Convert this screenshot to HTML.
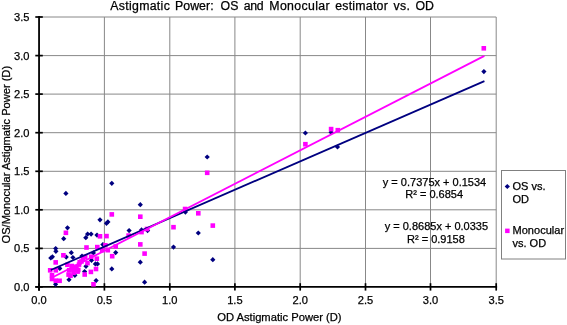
<!DOCTYPE html>
<html><head><meta charset="utf-8"><title>Astigmatic Power</title>
<style>
html,body{margin:0;padding:0;background:#fff;}
svg{display:block;}
text{font-family:"Liberation Sans",Arial,sans-serif;fill:#000;stroke:#000;stroke-width:0.25px;}
</style></head><body>
<svg width="567" height="325" viewBox="0 0 567 325">
<rect width="567" height="325" fill="#fff"/>

<g stroke="#888" stroke-width="1">
<line x1="104.4" y1="17.0" x2="104.4" y2="286.95"/>
<line x1="169.8" y1="17.0" x2="169.8" y2="286.95"/>
<line x1="234.9" y1="17.0" x2="234.9" y2="286.95"/>
<line x1="300.2" y1="17.0" x2="300.2" y2="286.95"/>
<line x1="365.5" y1="17.0" x2="365.5" y2="286.95"/>
<line x1="430.5" y1="17.0" x2="430.5" y2="286.95"/>
<line x1="496.2" y1="17.0" x2="496.2" y2="286.95"/>
<line x1="39.05" y1="248.4" x2="496.2" y2="248.4"/>
<line x1="39.05" y1="209.8" x2="496.2" y2="209.8"/>
<line x1="39.05" y1="171.3" x2="496.2" y2="171.3"/>
<line x1="39.05" y1="132.7" x2="496.2" y2="132.7"/>
<line x1="39.05" y1="94.1" x2="496.2" y2="94.1"/>
<line x1="39.05" y1="55.6" x2="496.2" y2="55.6"/>
<line x1="39.05" y1="17.0" x2="496.2" y2="17.0"/>
</g>
<g stroke="#000" stroke-width="1.8">
<line x1="39.05" y1="16.1" x2="39.05" y2="290.65"/>
<line x1="35.349999999999994" y1="286.95" x2="497.09999999999997" y2="286.95"/>
</g><g stroke="#000" stroke-width="1.7">
<line x1="39.0" y1="283.2" x2="39.0" y2="290.6"/>
<line x1="35.3" y1="286.9" x2="42.8" y2="286.9"/>
<line x1="104.4" y1="283.2" x2="104.4" y2="290.6"/>
<line x1="35.3" y1="248.4" x2="42.8" y2="248.4"/>
<line x1="169.8" y1="283.2" x2="169.8" y2="290.6"/>
<line x1="35.3" y1="209.8" x2="42.8" y2="209.8"/>
<line x1="234.9" y1="283.2" x2="234.9" y2="290.6"/>
<line x1="35.3" y1="171.3" x2="42.8" y2="171.3"/>
<line x1="300.2" y1="283.2" x2="300.2" y2="290.6"/>
<line x1="35.3" y1="132.7" x2="42.8" y2="132.7"/>
<line x1="365.5" y1="283.2" x2="365.5" y2="290.6"/>
<line x1="35.3" y1="94.1" x2="42.8" y2="94.1"/>
<line x1="430.5" y1="283.2" x2="430.5" y2="290.6"/>
<line x1="35.3" y1="55.6" x2="42.8" y2="55.6"/>
<line x1="496.2" y1="283.2" x2="496.2" y2="290.6"/>
<line x1="35.3" y1="17.0" x2="42.8" y2="17.0"/>
</g>
<g fill="#000080">
<path d="M55.7 245.9L58.3 248.5L55.7 251.1L53.1 248.5Z"/>
<path d="M55.9 248.7L58.5 251.3L55.9 253.9L53.3 251.3Z"/>
<path d="M50.8 255.4L53.4 258.0L50.8 260.6L48.2 258.0Z"/>
<path d="M52.4 254.2L55.0 256.8L52.4 259.4L49.8 256.8Z"/>
<path d="M71.3 250.1L73.9 252.7L71.3 255.3L68.7 252.7Z"/>
<path d="M66.2 254.5L68.8 257.1L66.2 259.7L63.6 257.1Z"/>
<path d="M72.9 254.9L75.5 257.5L72.9 260.1L70.3 257.5Z"/>
<path d="M59.8 265.8L62.4 268.4L59.8 271.0L57.2 268.4Z"/>
<path d="M69.0 277.1L71.6 279.7L69.0 282.3L66.4 279.7Z"/>
<path d="M55.6 281.7L58.2 284.3L55.6 286.9L53.0 284.3Z"/>
<path d="M74.9 272.7L77.5 275.3L74.9 277.9L72.3 275.3Z"/>
<path d="M102.9 242.0L105.5 244.6L102.9 247.2L100.3 244.6Z"/>
<path d="M115.7 250.0L118.3 252.6L115.7 255.2L113.1 252.6Z"/>
<path d="M111.8 266.3L114.4 268.9L111.8 271.5L109.2 268.9Z"/>
<path d="M96.1 278.0L98.7 280.6L96.1 283.2L93.5 280.6Z"/>
<path d="M95.4 261.3L98.0 263.9L95.4 266.5L92.8 263.9Z"/>
<path d="M97.5 261.3L100.1 263.9L97.5 266.5L94.9 263.9Z"/>
<path d="M86.0 263.7L88.6 266.3L86.0 268.9L83.4 266.3Z"/>
<path d="M84.6 269.0L87.2 271.6L84.6 274.2L82.0 271.6Z"/>
<path d="M93.4 250.3L96.0 252.9L93.4 255.5L90.8 252.9Z"/>
<path d="M82.0 253.4L84.6 256.0L82.0 258.6L79.4 256.0Z"/>
<path d="M91.5 257.7L94.1 260.3L91.5 262.9L88.9 260.3Z"/>
<path d="M111.8 180.7L114.4 183.3L111.8 185.9L109.2 183.3Z"/>
<path d="M65.9 190.8L68.5 193.4L65.9 196.0L63.3 193.4Z"/>
<path d="M100.0 217.2L102.6 219.8L100.0 222.4L97.4 219.8Z"/>
<path d="M107.9 219.3L110.5 221.9L107.9 224.5L105.3 221.9Z"/>
<path d="M106.5 220.7L109.1 223.3L106.5 225.9L103.9 223.3Z"/>
<path d="M67.5 225.2L70.1 227.8L67.5 230.4L64.9 227.8Z"/>
<path d="M63.7 236.1L66.3 238.7L63.7 241.3L61.1 238.7Z"/>
<path d="M87.6 231.5L90.2 234.1L87.6 236.7L85.0 234.1Z"/>
<path d="M91.1 231.5L93.7 234.1L91.1 236.7L88.5 234.1Z"/>
<path d="M85.8 235.1L88.4 237.7L85.8 240.3L83.2 237.7Z"/>
<path d="M97.0 232.5L99.6 235.1L97.0 237.7L94.4 235.1Z"/>
<path d="M129.1 228.0L131.7 230.6L129.1 233.2L126.5 230.6Z"/>
<path d="M140.3 202.1L142.9 204.7L140.3 207.3L137.7 204.7Z"/>
<path d="M141.5 227.3L144.1 229.9L141.5 232.5L138.9 229.9Z"/>
<path d="M147.6 228.0L150.2 230.6L147.6 233.2L145.0 230.6Z"/>
<path d="M140.3 259.6L142.9 262.2L140.3 264.8L137.7 262.2Z"/>
<path d="M144.6 279.6L147.2 282.2L144.6 284.8L142.0 282.2Z"/>
<path d="M173.5 244.5L176.1 247.1L173.5 249.7L170.9 247.1Z"/>
<path d="M185.4 209.5L188.0 212.1L185.4 214.7L182.8 212.1Z"/>
<path d="M198.3 230.4L200.9 233.0L198.3 235.6L195.7 233.0Z"/>
<path d="M212.8 257.1L215.4 259.7L212.8 262.3L210.2 259.7Z"/>
<path d="M207.2 154.4L209.8 157.0L207.2 159.6L204.6 157.0Z"/>
<path d="M305.4 130.4L308.0 133.0L305.4 135.6L302.8 133.0Z"/>
<path d="M331.1 129.7L333.7 132.3L331.1 134.9L328.5 132.3Z"/>
<path d="M337.5 144.4L340.1 147.0L337.5 149.6L334.9 147.0Z"/>
<path d="M483.9 69.0L486.5 71.6L483.9 74.2L481.3 71.6Z"/>
</g>
<g fill="#ff00ff">
<rect x="61.1" y="253.0" width="4.6" height="4.6"/>
<rect x="53.4" y="260.1" width="4.6" height="4.6"/>
<rect x="47.9" y="268.0" width="4.6" height="4.6"/>
<rect x="53.5" y="268.0" width="4.6" height="4.6"/>
<rect x="49.7" y="273.0" width="4.6" height="4.6"/>
<rect x="49.7" y="276.7" width="4.6" height="4.6"/>
<rect x="53.5" y="278.4" width="4.6" height="4.6"/>
<rect x="57.3" y="278.5" width="4.6" height="4.6"/>
<rect x="65.1" y="262.5" width="4.6" height="4.6"/>
<rect x="69.4" y="263.7" width="4.6" height="4.6"/>
<rect x="66.9" y="268.0" width="4.6" height="4.6"/>
<rect x="66.3" y="272.3" width="4.6" height="4.6"/>
<rect x="68.2" y="273.5" width="4.6" height="4.6"/>
<rect x="74.1" y="264.4" width="4.6" height="4.6"/>
<rect x="77.4" y="260.0" width="4.6" height="4.6"/>
<rect x="73.7" y="267.4" width="4.6" height="4.6"/>
<rect x="75.3" y="269.3" width="4.6" height="4.6"/>
<rect x="71.2" y="270.5" width="4.6" height="4.6"/>
<rect x="70.6" y="267.0" width="4.6" height="4.6"/>
<rect x="84.2" y="245.2" width="4.6" height="4.6"/>
<rect x="95.0" y="244.8" width="4.6" height="4.6"/>
<rect x="105.5" y="247.9" width="4.6" height="4.6"/>
<rect x="103.1" y="243.0" width="4.6" height="4.6"/>
<rect x="113.4" y="244.2" width="4.6" height="4.6"/>
<rect x="99.9" y="247.9" width="4.6" height="4.6"/>
<rect x="109.9" y="253.9" width="4.6" height="4.6"/>
<rect x="94.5" y="256.4" width="4.6" height="4.6"/>
<rect x="88.9" y="254.4" width="4.6" height="4.6"/>
<rect x="93.7" y="266.7" width="4.6" height="4.6"/>
<rect x="88.6" y="269.6" width="4.6" height="4.6"/>
<rect x="82.4" y="272.2" width="4.6" height="4.6"/>
<rect x="91.2" y="282.0" width="4.6" height="4.6"/>
<rect x="80.6" y="256.9" width="4.6" height="4.6"/>
<rect x="85.2" y="260.8" width="4.6" height="4.6"/>
<rect x="76.7" y="262.3" width="4.6" height="4.6"/>
<rect x="76.0" y="267.7" width="4.6" height="4.6"/>
<rect x="79.1" y="259.2" width="4.6" height="4.6"/>
<rect x="82.9" y="254.7" width="4.6" height="4.6"/>
<rect x="109.5" y="212.1" width="4.6" height="4.6"/>
<rect x="63.6" y="230.5" width="4.6" height="4.6"/>
<rect x="97.7" y="234.0" width="4.6" height="4.6"/>
<rect x="104.2" y="233.8" width="4.6" height="4.6"/>
<rect x="126.3" y="233.3" width="4.6" height="4.6"/>
<rect x="138.0" y="214.4" width="4.6" height="4.6"/>
<rect x="139.2" y="229.8" width="4.6" height="4.6"/>
<rect x="144.7" y="226.7" width="4.6" height="4.6"/>
<rect x="138.0" y="242.1" width="4.6" height="4.6"/>
<rect x="142.3" y="251.3" width="4.6" height="4.6"/>
<rect x="171.2" y="224.9" width="4.6" height="4.6"/>
<rect x="182.8" y="206.7" width="4.6" height="4.6"/>
<rect x="196.0" y="211.0" width="4.6" height="4.6"/>
<rect x="210.5" y="223.3" width="4.6" height="4.6"/>
<rect x="204.9" y="170.5" width="4.6" height="4.6"/>
<rect x="303.1" y="141.9" width="4.6" height="4.6"/>
<rect x="328.8" y="126.8" width="4.6" height="4.6"/>
<rect x="335.5" y="127.9" width="4.6" height="4.6"/>
<rect x="481.5" y="46.0" width="4.6" height="4.6"/>
</g>
<line x1="50.8" y1="270.0" x2="484.4" y2="81.1" stroke="#000080" stroke-width="1.8"/>
<line x1="50.8" y1="278.3" x2="484.4" y2="55.9" stroke="#ff00ff" stroke-width="1.8"/>
<rect x="501.5" y="170.5" width="64" height="88.5" fill="#fff" stroke="#808080" stroke-width="1"/>
<path d="M507.3 183.9L509.90000000000003 186.5L507.3 189.1L504.7 186.5Z" fill="#000080"/>
<rect x="505.1" y="228.6" width="4.5" height="4.5" fill="#ff00ff"/>
<g font-size="11px">
<text x="512.5" y="189.7">OS vs.</text>
<text x="512.5" y="202.7">OD</text>
<text x="512.5" y="233.5" textLength="51.6" lengthAdjust="spacing">Monocular</text>
<text x="512.5" y="246.5">vs. OD</text>
</g>
<g font-size="11px" text-anchor="middle">
<text x="434.5" y="185.8">y = 0.7375x + 0.1534</text>
<text x="434.2" y="197.7">R² = 0.6854</text>
<text x="436.4" y="230.1">y = 0.8685x + 0.0335</text>
<text x="435.9" y="242.6">R² = 0.9158</text>
</g>
<g font-size="11.1px" text-anchor="end">
<text x="29.4" y="290.8">0.0</text>
<text x="29.4" y="252.3">0.5</text>
<text x="29.4" y="213.7">1.0</text>
<text x="29.4" y="175.2">1.5</text>
<text x="29.4" y="136.6">2.0</text>
<text x="29.4" y="98.0">2.5</text>
<text x="29.4" y="59.5">3.0</text>
<text x="29.4" y="20.9">3.5</text>
</g>
<g font-size="11.1px" text-anchor="middle">
<text x="39.0" y="304">0.0</text>
<text x="104.4" y="304">0.5</text>
<text x="169.8" y="304">1.0</text>
<text x="234.9" y="304">1.5</text>
<text x="300.2" y="304">2.0</text>
<text x="365.5" y="304">2.5</text>
<text x="430.5" y="304">3.0</text>
<text x="496.2" y="304">3.5</text>
</g>
<g font-size="12.3px">
<text x="110.2" y="10.2" textLength="59.6" lengthAdjust="spacing">Astigmatic</text>
<text x="175.0" y="10.2" textLength="38.6" lengthAdjust="spacing">Power:</text>
<text x="220.6" y="10.2" textLength="17.9" lengthAdjust="spacing">OS</text>
<text x="243.8" y="10.2" textLength="19.9" lengthAdjust="spacing">and</text>
<text x="269.3" y="10.2" textLength="60.3" lengthAdjust="spacing">Monocular</text>
<text x="335.2" y="10.2" textLength="52.6" lengthAdjust="spacing">estimator</text>
<text x="393.6" y="10.2" textLength="16.2" lengthAdjust="spacing">vs.</text>
<text x="415.5" y="10.2" textLength="18.3" lengthAdjust="spacing">OD</text>
</g>
<text x="279.4" y="320.8" font-size="11.2px" text-anchor="middle">OD Astigmatic Power (D)</text>
<text transform="translate(9.7,154.7) rotate(-90)" font-size="11.1px" text-anchor="middle">OS/Monocular Astigmatic Power (D)</text>
</svg></body></html>
